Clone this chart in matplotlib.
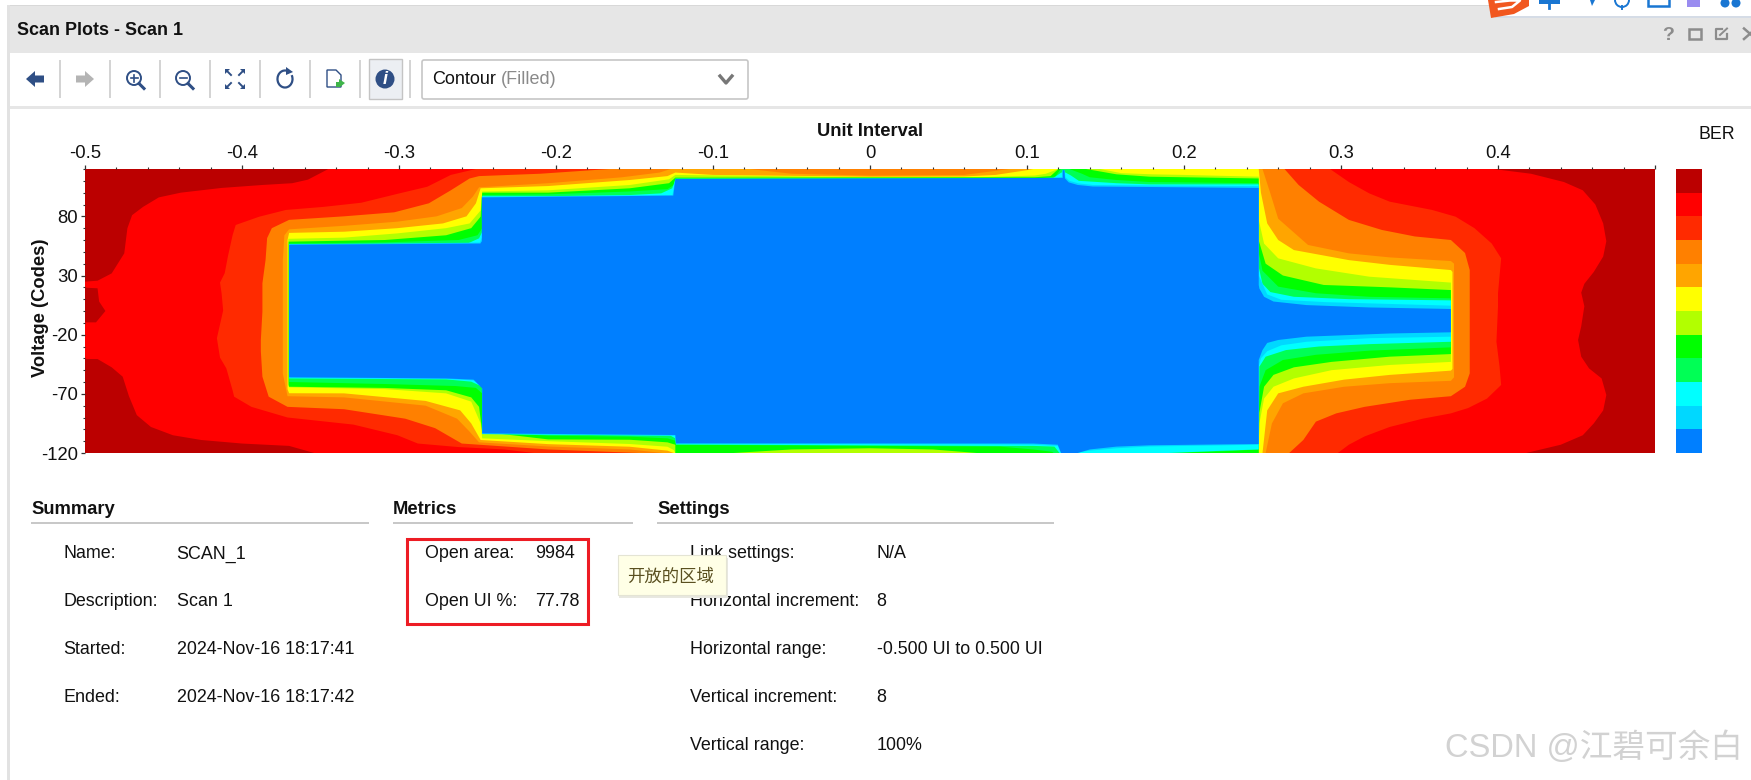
import matplotlib
matplotlib.use('Agg')
import matplotlib.pyplot as plt
from matplotlib.patches import Rectangle, Polygon, Circle, Arc, FancyBboxPatch

plt.rcParams['font.family'] = ['Liberation Sans', 'Noto Sans CJK SC', 'DejaVu Sans']
plt.rcParams['axes.unicode_minus'] = False

W, H = 1751, 780

# Eje X (UI) y eje Y (codes)
x_ticks = [-0.5, -0.4, -0.3, -0.2, -0.1, 0, 0.1, 0.2, 0.3, 0.4, 0.5]
x_tick_labels = ['-0.5', '-0.4', '-0.3', '-0.2', '-0.1', '0', '0.1', '0.2', '0.3', '0.4', '']
y_ticks = [-120, -70, -20, 30, 80]
x_limits = (-0.5, 0.5)
y_limits = (-120, 120)

# Colores de BER, de fuera hacia dentro del ojo
ber_colors = ['#BB0000', '#FF0000', '#FF2A00', '#FF8000', '#FFA500', '#FFFF00',
              '#B2FF00', '#00FF00', '#00FF55', '#00FFFF', '#00D8FF', '#007FFF']

# Contornos: (UI, codes)
red = [(-.5, 24.8), (-.492, 25.6), (-.483, 31.8), (-.475, 48.7), (-.473, 69.9), (-.470, 81), (-.463, 88),
       (-.453, 96), (-.439, 100), (-.413, 104), (-.387, 106.5), (-.368, 108), (-.358, 111), (-.345, 120),
       (.397, 120), (.421, 116), (.442, 109), (.454, 102), (.462, 90), (.467, 74), (.469, 59), (.467, 46),
       (.461, 33), (.455, 23), (.453, 15.5), (.455, 4), (.453, -13), (.451, -24.5), (.453, -38.6), (.458, -48.5),
       (.466, -57), (.469, -71), (.467, -84), (.461, -95), (.454, -105), (.440, -113), (.418, -120),
       (-.354, -120), (-.370, -114), (-.400, -112), (-.426, -109), (-.444, -105), (-.458, -98), (-.467, -88),
       (-.472, -72), (-.476, -55.5), (-.483, -47.6), (-.492, -40.6), (-.5, -40.6), (-.5, -9.6), (-.493, -9.6),
       (-.487, 0), (-.491, 8), (-.492, 19.2), (-.5, 19.7)]

red_orange = [(-.416, -23), (-.412, .4), (-.413, 15), (-.414, 24), (-.411, 32), (-.409, 46), (-.406, 64),
              (-.404, 72.7), (-.389, 79.7), (-.372, 85.4), (-.348, 88), (-.324, 91.5), (-.301, 99), (-.282, 105),
              (-.267, 115), (-.251, 120), (.293, 120), (.305, 109), (.318, 99.4), (.331, 92.4), (.358, 85.4),
              (.373, 79.7), (.385, 70), (.396, 57), (.402, 44.5), (.400, 15), (.400, 3.7), (.399, -26), (.401, -47),
              (.402, -62.5), (.393, -74), (.381, -82), (.370, -86.5), (.352, -91), (.331, -98), (.315, -106),
              (.305, -113), (.298, -120), (-.214, -120), (-.233, -117), (-.262, -115), (-.288, -112), (-.301, -105),
              (-.329, -96), (-.371, -90), (-.394, -81), (-.405, -72.4), (-.406, -67), (-.41, -48.4), (-.414, -39.4)]

orange = [(-.388, -24.5), (-.387, -.6), (-.387, 23.4), (-.385, 43), (-.384, 61.6), (-.381, 70), (-.370, 77),
          (-.335, 80), (-.303, 83.4), (-.281, 91), (-.267, 102), (-.255, 112), (-.249, 114), (-.21, 116),
          (-.166, 120), (.264, 120), (.273, 106.5), (.286, 92.4), (.305, 77), (.326, 68.5), (.347, 63), (.370, 60),
          (.379, 49), (.382, 34.6), (.382, -52.7), (.379, -64), (.370, -72), (.344, -75), (.315, -81), (.297, -86.5),
          (.284, -93.5), (.276, -109), (.267, -120), (-.147, -120), (-.205, -117), (-.249, -113), (-.26, -112),
          (-.277, -99), (-.296, -91), (-.335, -83), (-.371, -81), (-.383, -72.4), (-.387, -55.5), (-.388, -34)]

amber = [(-.374, -53), (-.374, 43), (-.373, 64), (-.37, 69), (-.335, 72), (-.301, 75.5), (-.276, 80), (-.26, 87),
         (-.253, 96.6), (-.249, 104.5), (-.205, 108), (-.158, 113), (-.134, 117), (-.127, 120), (-.077, 120),
         (-.05, 116), (0, 114.4), (.06, 115), (.089, 120), (.25, 120), (.255, 99.4), (.26, 78), (.279, 55.8),
         (.305, 48.7), (.331, 45.3), (.370, 42.2), (.372, 40), (.372, -56), (.37, -59), (.331, -61), (.302, -64),
         (.276, -69.6), (.263, -78), (.256, -95), (.252, -120), (-.132, -120), (-.153, -117), (-.205, -114.5),
         (-.249, -111), (-.255, -102), (-.263, -91), (-.283, -80), (-.335, -73), (-.371, -72)]

yellow = [(-.371, -66), (-.371, 60), (-.37, 66), (-.335, 67), (-.301, 70), (-.272, 74), (-.257, 80), (-.251, 91),
          (-.248, 103.7), (-.205, 105.6), (-.153, 110.7), (-.129, 114), (-.124, 117), (-.1, 115), (0, 113.5),
          (.06, 113.7), (.08, 115), (.1, 119), (.104, 120), (.2476, 120), (.249, 100), (.253, 74), (.26, 60),
          (.27, 51.5), (.305, 43), (.331, 39), (.370, 34.6), (.371, 33), (.371, -49), (.370, -50.4), (.331, -54),
          (.302, -58), (.276, -64), (.26, -69.6), (.253, -84), (.25, -120), (-.125, -120), (-.129, -118),
          (-.153, -114.7), (-.205, -112.5), (-.248, -109), (-.254, -95), (-.261, -84), (-.283, -76), (-.335, -69.6),
          (-.37, -69.5)]

yellow_green = [(-.3705, -63), (-.3705, 61), (-.335, 62), (-.301, 65.6), (-.27, 70), (-.255, 74), (-.248, 85),
                (-.247, 101), (-.205, 102), (-.153, 106.5), (-.128, 111.3), (-.124, 115), (0, 113), (.07, 113),
                (.105, 114.5), (.112, 116), (.12, 120), (.1465, 120), (.16, 116.5), (.18, 115.5), (.2, 115),
                (.2476, 113.5), (.2476, 77), (.251, 57), (.26, 44.5), (.284, 36), (.318, 29), (.37, 24), (.37, -43),
                (.331, -45.6), (.294, -50), (.27, -57), (.257, -64), (.251, -74), (.248, -95), (.2476, -120),
                (-.124, -120), (-.125, -117.5), (-.129, -114.7), (-.153, -112.4), (-.205, -110), (-.247, -107.6),
                (-.248, -95), (-.254, -76.6), (-.27, -69.6), (-.309, -66), (-.37, -64.5)]

green = [(-.3703, -62), (-.3703, 58.6), (-.309, 60), (-.27, 64), (-.254, 70), (-.248, 79.7), (-.247, 100), (-.205, 100),
         (-.153, 103.7), (-.128, 108), (-.124, 112.7), (.105, 113), (.115, 114), (.12, 120), (.1376, 120), (.157, 115.5),
         (.178, 113.5), (.2476, 112), (.2476, 59.6), (.252, 40), (.263, 30), (.289, 22), (.331, 20), (.37, 17.7),
         (.37, -36.4), (.331, -38.6), (.294, -43), (.27, -47.6), (.257, -54), (.251, -64), (.248, -86), (.2476, -120),
         (.068, -120), (.04, -117), (0, -116), (-.05, -117), (-.087, -120), (-.124, -120), (-.124, -113), (-.129, -111),
         (-.153, -108.8), (-.205, -108.5), (-.247, -102), (-.249, -81), (-.254, -73), (-.27, -67), (-.309, -65), (-.37, -64)]

spring_green = [(-.37, -60), (-.37, 57), (-.309, 58), (-.262, 60), (-.25, 64), (-.247, 70), (-.247, 98), (-.205, 98.6),
                (-.153, 101), (-.129, 103), (-.125, 106.5), (-.124, 112.2), (.11, 112.5), (.118, 113.5), (.1215, 120),
                (.127, 120), (.135, 116), (.14, 113), (.157, 110.7), (.178, 109), (.2476, 108), (.2476, 49.6), (.25, 34),
                (.26, 20.6), (.284, 15), (.318, 12), (.37, 10.7), (.37, -30.7), (.318, -33.5), (.284, -37), (.263, -41.4),
                (.252, -50), (.248, -64), (.2476, -92), (.2476, -117), (.226, -118.5), (.19, -120), (.117, -120),
                (.116, -119), (.104, -117), (.0825, -114.6), (-.1235, -113), (-.124, -109.6), (-.129, -107.6),
                (-.153, -106.2), (-.205, -105.4), (-.247, -102), (-.247, -69.6), (-.251, -65), (-.264, -63.4),
                (-.309, -61.7)]

cyan = [(-.37, -57), (-.37, 56.6), (-.257, 56.6), (-.249, 61.4), (-.247, 67), (-.247, 97), (-.205, 97), (-.153, 98),
        (-.133, 99.4), (-.126, 103.7), (-.124, 110.7), (-.123, 111.6), (.11, 111.7), (.117, 112.5), (.1218, 117),
        (.1245, 117), (.128, 114.5), (.133, 110), (.157, 108), (.178, 107), (.2476, 107), (.2476, 37), (.25, 23),
        (.255, 16), (.27, 12), (.305, 10), (.37, 9), (.37, -26), (.318, -28), (.286, -30), (.265, -33), (.252, -38.6),
        (.248, -47), (.2476, -111.8), (.2476, -117), (.226, -118), (.19, -120), (.1207, -120), (.1175, -114.6),
        (.104, -114), (.0825, -114), (-.1236, -112.8), (-.124, -107.6), (-.127, -105.4), (-.247, -104), (-.247, -64),
        (-.254, -59.7), (-.27, -57.8)]

sky_blue = [(-.37, -56.5), (-.37, 56.3), (-.2485, 57.8), (-.2472, 62), (-.2472, 96.5), (-.1258, 98), (-.124, 111.7),
            (.11, 111.9), (.1222, 113), (.1225, 119), (.1240, 119), (.1245, 113), (.127, 110), (.133, 107.8),
            (.142, 106.5), (.2476, 105.5), (.2476, 30), (.249, 26), (.253, 14), (.262, 9.5), (.29, 7.5), (.37, 4.5),
            (.37, -21.7), (.318, -23), (.278, -26), (.262, -29), (.253, -34), (.249, -40), (.2476, -47), (.2476, -113),
            (.226, -113.5), (.178, -114.5), (.157, -116), (.14, -118), (.13, -120), (.1217, -120), (.1196, -114),
            (.104, -113), (.072, -112.8), (-.1236, -112.4), (-.124, -105.4), (-.247, -104), (-.247, -64), (-.2525, -58.7),
            (-.27, -57.4)]

blue = [(-.37, -56), (-.37, 56), (-.2482, 57), (-.2472, 59), (-.2472, 96), (-.1253, 97.5), (-.124, 111.5), (.1228, 112.5),
        (.1228, 119), (.1238, 119), (.1242, 112), (.1266, 108.7), (.1323, 106.5), (.142, 105.2), (.2476, 104),
        (.2476, 22), (.248, 19), (.251, 12), (.257, 8), (.278, 5), (.318, 3), (.37, 1.7), (.37, -18), (.331, -19),
        (.278, -21.7), (.26, -24.5), (.253, -27), (.25, -33), (.2476, -41.4), (.2476, -112.4), (.226, -112.7),
        (.178, -113.5), (.157, -114.6), (.14, -117), (.1323, -120), (.1217, -120), (.1196, -113), (.104, -112),
        (-.1236, -111.8), (-.124, -104.8), (-.247, -103.4), (-.247, -65.4), (-.2525, -58), (-.27, -57)]

contours = [red, red_orange, orange, amber, yellow, yellow_green, green, spring_green, cyan, sky_blue, blue]

# Textos del panel
summary_names = ['Name:', 'Description:', 'Started:', 'Ended:']
summary_values = ['SCAN_1', 'Scan 1', '2024-Nov-16 18:17:41', '2024-Nov-16 18:17:42']
metric_names = ['Open area:', 'Open UI %:']
metric_values = ['9984', '77.78']
setting_names = ['Link settings:', 'Horizontal increment:', 'Horizontal range:', 'Vertical increment:', 'Vertical range:']
setting_values = ['N/A', '8', '-0.500 UI to 0.500 UI', '8', '100%']
row_y = [553, 601, 649, 697, 745]

fig = plt.figure(figsize=(W / 100, H / 100), dpi=100, facecolor='white')

# Capa en pixeles para la ventana
ui = fig.add_axes([0, 0, 1, 1], zorder=0)
ui.set_xlim(0, W)
ui.set_ylim(H, 0)
ui.axis('off')


def rect(x0, y0, x1, y1, **kw):
    kw.setdefault('lw', 0)
    ui.add_patch(Rectangle((x0, y0), x1 - x0, y1 - y0, **kw))


def label(x, y, s, size=12.9, weight='normal', color='#111111', ha='left', **kw):
    # y es el centro de las mayusculas
    return ui.text(x, y + size * 0.42, s, fontsize=size, fontweight=weight, color=color, ha=ha, va='baseline', **kw)


# Marco
rect(7, 5, W, 7, fc='#D8D8D8')
rect(7, 6, W, 53, fc='#E6E6E6')
rect(7, 5, 10, H, fc='#E2E2E2')
rect(10, 106, W, 109, fc='#E6E6E6')
label(17, 30, 'Scan Plots - Scan 1', size=12.9, weight='bold')

# Barra de herramientas
for sx in [60, 110, 160, 210, 260, 310, 360, 410]:
    rect(sx - 0.7, 60, sx + 0.7, 98, fc='#D4D4D4')
navy = '#2F4F85'
ui.add_patch(Polygon([(26, 79), (35, 71), (35, 75.5), (44, 75.5), (44, 82.5), (35, 82.5), (35, 87)], fc=navy, lw=0))
ui.add_patch(Polygon([(94, 79), (85, 71), (85, 75.5), (76, 75.5), (76, 82.5), (85, 82.5), (85, 87)], fc='#B4B4B4', lw=0))
for cx, plus in [(134, True), (183, False)]:
    ui.add_patch(Circle((cx, 78), 7, fc='none', ec=navy, lw=1.4))
    ui.plot([cx + 5, cx + 10], [83.5, 88.5], color=navy, lw=2.2)
    ui.plot([cx - 3.5, cx + 3.5], [78, 78], color=navy, lw=1.2)
    if plus:
        ui.plot([cx, cx], [74.5, 81.5], color=navy, lw=1.2)
for dx, dy in [(-1, -1), (1, -1), (-1, 1), (1, 1)]:
    cx, cy = 235 + 7 * dx, 79 + 7 * dy
    ui.add_patch(Polygon([(cx + 3 * dx, cy + 3 * dy), (cx - 2 * dx, cy + 3 * dy), (cx + 3 * dx, cy - 2 * dy)], fc=navy, lw=0))
    ui.plot([cx + 1 * dx, cx - 3 * dx], [cy + 1 * dy, cy - 3 * dy], color=navy, lw=1.4)
ui.add_patch(Arc((285, 79), 15, 17, theta1=-30, theta2=280, ec=navy, lw=1.6))
ui.add_patch(Polygon([(286, 67), (293, 72), (286, 75)], fc=navy, lw=0))
ui.add_patch(Polygon([(327, 70), (336, 70), (341, 75), (341, 87), (327, 87)], fc='white', ec=navy, lw=1))
ui.add_patch(Polygon([(336, 87), (336, 82), (339, 82), (339, 79), (345, 83), (340, 87)], fc='#3FB54A', lw=0))
rect(369, 59, 402, 99, fc='#ECEFF3', ec='#C4C4C4', lw=1)
ui.add_patch(Circle((385, 79), 9.5, fc=navy, lw=0))
label(385, 79, 'i', size=13, weight='bold', color='white', ha='center', style='italic')
ui.add_patch(FancyBboxPatch((422, 60), 326, 39, boxstyle='round,pad=0,rounding_size=2', fc='white', ec='#C6C6C6', lw=1.2))
label(432.5, 79, 'Contour', size=13)
label(501, 79, '(Filled)', size=13, color='#8A8A8A')
ui.plot([720, 726, 732], [76, 83, 76], color='#777777', lw=2.4)

# Controles de ventana
label(1668, 34, '?', size=14, weight='bold', color='#8C8C8C', ha='center')
rect(1688.5, 28.5, 1700.5, 39, fc='none', ec='#8C8C8C', lw=1.8)
ui.plot([1722, 1716, 1716, 1727, 1727], [29, 29, 39, 39, 34], color='#8C8C8C', lw=1.6)
ui.plot([1720, 1727], [35, 28.5], color='#8C8C8C', lw=1.4)
ui.plot([1744, 1756], [28.5, 39], color='#8C8C8C', lw=1.8)
ui.plot([1744, 1756], [39, 28.5], color='#8C8C8C', lw=1.8)

# Recorte de la barra del navegador arriba a la derecha
rect(1495, 0, W, 16, fc='white')
rect(1495, 16, W, 17.5, fc='#D5DCE6')
ui.add_patch(Polygon([(1488, 0), (1529, 0), (1529, 6), (1514, 14), (1491, 18)], fc='#F1571F', lw=0))
ui.plot([1496, 1510, 1520, 1512, 1499], [2, 0.5, 0.5, 7, 9], color='white', lw=1.8)
ui.plot([1549, 1549], [0, 8], color='#1976D2', lw=2)
rect(1539, 0, 1560, 3.5, fc='#1976D2')
ui.add_patch(Polygon([(1590, 0), (1595, 0), (1592, 6)], fc='#1976D2', lw=0))
ui.add_patch(Circle((1622, 0), 7, fc='none', ec='#1976D2', lw=1.4))
ui.plot([1622, 1622], [6, 9], color='#1976D2', lw=1.4)
rect(1648, -2, 1669, 6, fc='none', ec='#1976D2', lw=1.8)
rect(1687, 0, 1700, 7, fc='#9A8CF0')
ui.add_patch(Circle((1725, 3), 4.5, fc='#1976D2', lw=0))
ui.add_patch(Circle((1736, 3), 4.5, fc='#1976D2', lw=0))

# Titulos de ejes
label(870, 130, 'Unit Interval', size=13.2, weight='bold', ha='center')
label(1717, 133.5, 'BER', size=12.8, ha='center')
ui.text(45, 308, 'Voltage (Codes)', fontsize=13.2, fontweight='bold', color='#111111', ha='center', va='baseline',
        rotation=90, rotation_mode='anchor')

# Grafico de contorno
ax = fig.add_axes([85 / W, (H - 453) / H, 1570 / W, 284 / H], zorder=1)
ax.set_facecolor(ber_colors[0])
for poly, col in zip(contours, ber_colors[1:]):
    ax.fill([p[0] for p in poly], [p[1] for p in poly], color=col, lw=0)
ax.set_xlim(*x_limits)
ax.set_ylim(*y_limits)
ax.xaxis.tick_top()
ax.set_xticks(x_ticks, x_tick_labels)
ax.set_xticks([v / 100 for v in range(-50, 51, 2) if v % 10 != 0], minor=True)
ax.set_yticks(y_ticks)
ax.set_yticks([v for v in range(-110, 121, 10) if v not in y_ticks], minor=True)
ax.tick_params(which='major', length=3.2, width=0.9, color='#333333', labelsize=13.3, pad=2, labelcolor='#111111')
ax.tick_params(which='minor', length=1.8, width=0.8, color='#333333')
for s in ax.spines.values():
    s.set_visible(False)

# Barra de colores
cb = fig.add_axes([1675.5 / W, (H - 453) / H, 26.5 / W, 284 / H], zorder=1)
for i, col in enumerate(reversed(ber_colors)):
    cb.bar(0, 1, bottom=i, width=1, color=col, lw=0)
cb.set_xlim(-0.5, 0.5)
cb.set_ylim(0, len(ber_colors))
cb.axis('off')

# Secciones inferiores
for x0, x1, head in [(31, 369, 'Summary'), (393, 633, 'Metrics'), (657, 1054, 'Settings')]:
    label(x0, 508, head, size=13.2, weight='bold')
    rect(x0, 522, x1, 524, fc='#C8C8C8')

for y, n, v in zip(row_y, summary_names, summary_values):
    label(63, y, n)
    label(176.5, y, v)
for y, n, v in zip(row_y, metric_names, metric_values):
    label(425, y, n)
    label(535, y, v)
for y, n, v in zip(row_y, setting_names, setting_values):
    label(690, y, n)
    label(876.5, y, v)

rect(407, 539, 588, 624, fc='none', ec='#ED1C24', lw=2.2)

# Tooltip
rect(619, 558, 728, 598, fc='#E8E8E0', zorder=3)
rect(617.5, 555, 726, 595, fc='#FFFFE6', ec='#E4E4D4', lw=0.8, zorder=3)
label(627, 576.5, '开放的区域', size=12.5, color='#5A5020', zorder=4)

# Marca de agua
label(1743, 747, 'CSDN @江碧可余白', size=23.5, color='#D2D2D2', ha='right')

fig.savefig('out.png', dpi=100)
